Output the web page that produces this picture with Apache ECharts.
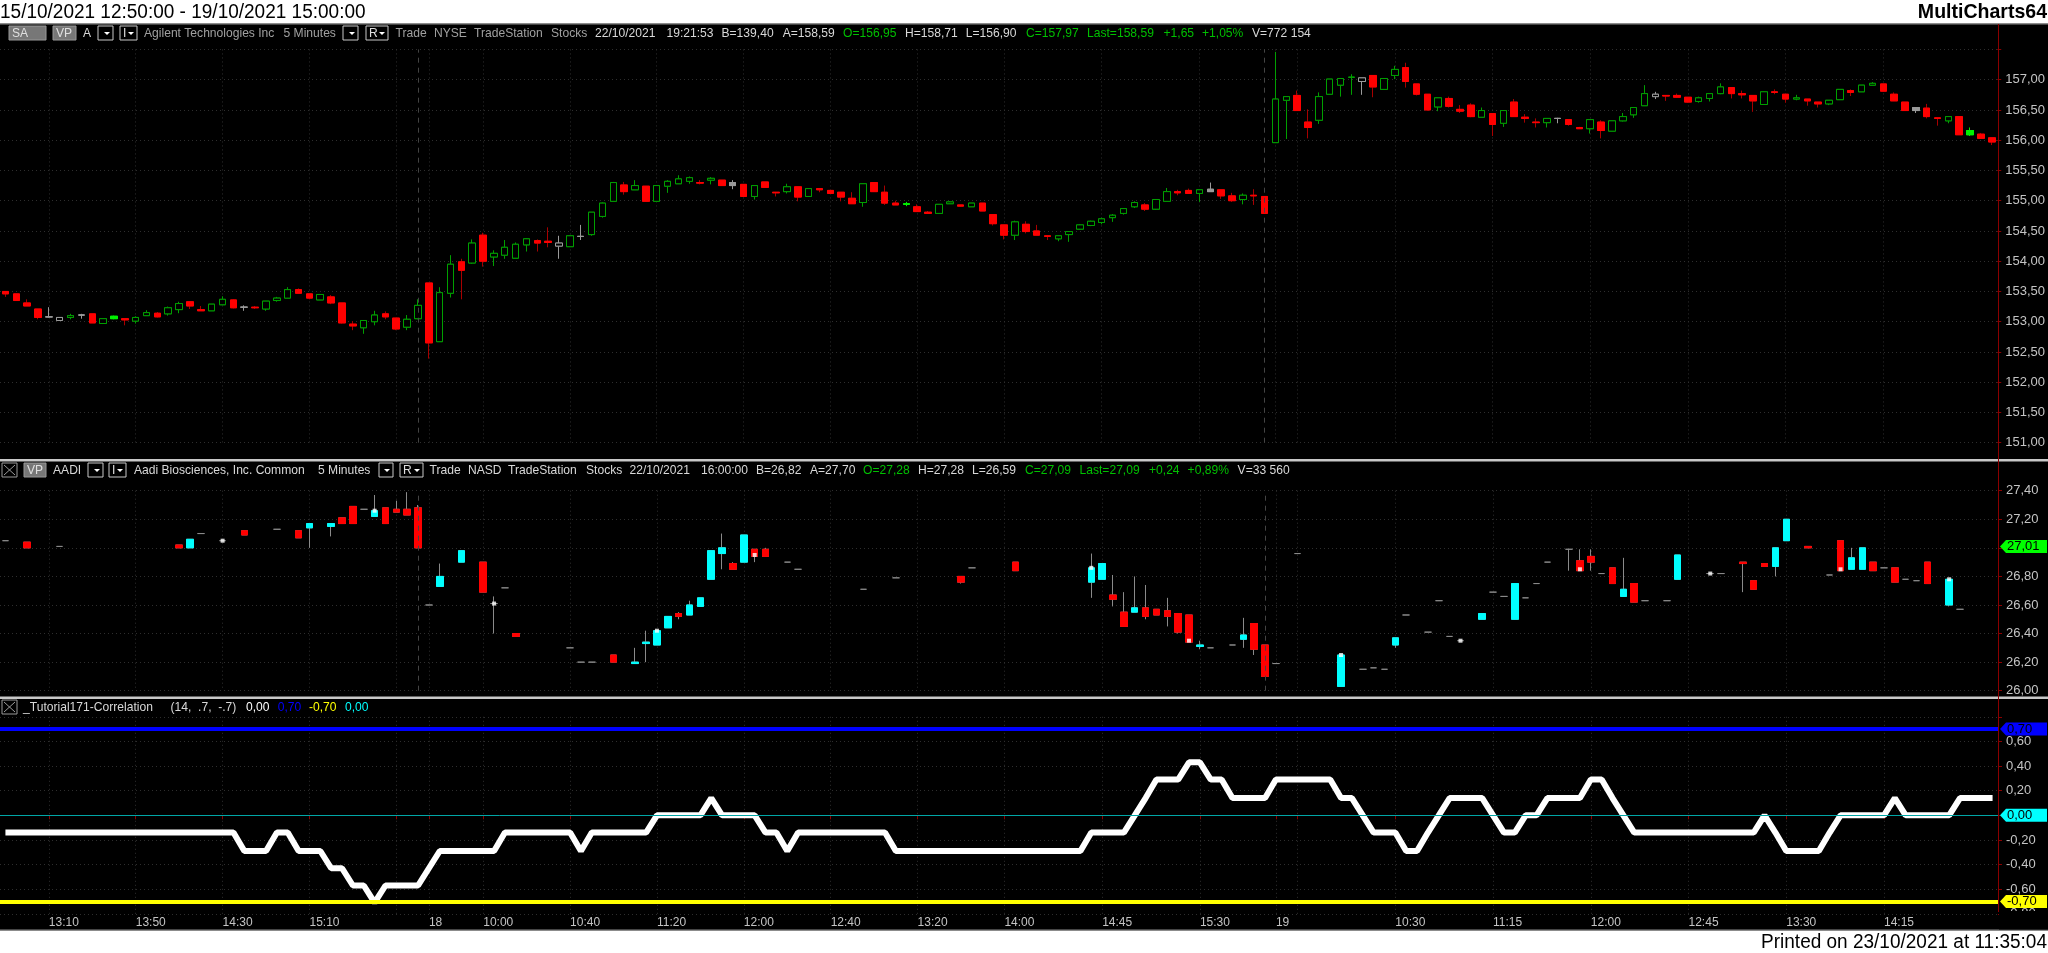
<!DOCTYPE html>
<html>
<head>
<meta charset="utf-8">
<title>MultiCharts64</title>
<style>
  html, body { margin: 0; padding: 0; background: #000; }
  #main { width: 2048px; height: 953px; }
</style>
<script src="https://cdn.jsdelivr.net/npm/echarts@6/dist/echarts.min.js"></script>
</head>
<body>
<div id="main"></div>
<script>
// 5 minute bars, one slot per bar on all three panels
const barCount = 184;
const tickBars = [4,12,20,28,36,39,44,52,60,68,76,84,92,101,110,117,119,128,137,146,155,164,173];
const tickLabels = ['13:10','13:50','14:30','15:10','','18','10:00','10:40','11:20','12:00','12:40','13:20','14:00','14:45','15:30','19','','10:30','11:15','12:00','12:45','13:30','14:15'];
const sessionBreaks = [38,116];

// Agilent (A) - open, close, low, high
const aOpen = [153.50,153.46,153.31,153.21,153.08,153.02,153.07,153.11,153.13,152.97,153.05,153.05,153.01,153.10,153.14,153.13,153.20,153.33,153.20,153.18,153.28,153.36,153.24,153.24,153.21,153.35,153.39,153.53,153.46,153.36,153.41,153.31,152.96,152.90,153.00,153.13,153.06,152.91,153.05,153.64,152.67,153.47,153.99,153.97,154.43,154.07,154.10,154.05,154.27,154.34,154.33,154.25,154.24,154.41,154.44,154.74,154.99,155.26,155.18,155.24,154.99,155.24,155.28,155.32,155.30,155.34,155.34,155.30,155.27,155.07,155.31,155.14,155.15,155.23,155.07,155.20,155.17,155.14,155.04,154.97,155.30,155.14,154.96,154.94,154.90,154.81,154.79,154.95,154.93,154.90,154.96,154.77,154.60,154.43,154.61,154.50,154.42,154.37,154.44,154.53,154.59,154.64,154.72,154.79,154.90,154.93,154.86,154.99,155.15,155.17,155.12,155.19,155.18,155.08,155.02,155.09,155.07,155.96,156.66,156.74,156.30,156.33,156.76,156.91,157.04,156.97,157.07,156.84,157.07,157.20,156.93,156.76,156.55,156.69,156.51,156.58,156.38,156.44,156.28,156.63,156.38,156.30,156.29,156.36,156.34,156.21,156.19,156.30,156.15,156.32,156.42,156.57,156.72,156.74,156.74,156.71,156.64,156.69,156.77,156.87,156.77,156.74,156.59,156.80,156.76,156.68,156.68,156.63,156.60,156.67,156.82,156.80,156.91,156.93,156.76,156.63,156.54,156.53,156.37,156.32,156.39,156.09,156.10,156.04];
const aClose = [153.46,153.35,153.26,153.07,153.08,153.07,153.10,153.11,152.98,153.05,153.09,153.03,153.07,153.15,153.08,153.23,153.30,153.26,153.18,153.29,153.37,153.23,153.24,153.23,153.34,153.39,153.53,153.47,153.39,153.45,153.31,152.98,152.93,153.02,153.11,153.08,152.88,153.04,153.27,152.65,153.48,153.95,153.85,154.30,154.00,154.13,154.23,154.28,154.37,154.30,154.31,154.30,154.42,154.41,154.81,154.96,155.30,155.15,155.25,154.99,155.25,155.32,155.36,155.38,155.29,155.37,155.25,155.25,155.07,155.25,155.22,155.13,155.23,155.06,155.20,155.18,155.12,155.06,154.95,155.28,155.15,154.96,154.93,154.95,154.82,154.79,154.94,154.98,154.91,154.96,154.83,154.62,154.43,154.65,154.49,154.43,154.41,154.42,154.49,154.60,154.66,154.70,154.76,154.87,154.97,154.86,155.02,155.15,155.13,155.12,155.18,155.15,155.08,155.00,155.09,155.08,154.79,156.68,156.72,156.49,156.21,156.72,157.01,157.02,157.04,157.03,156.88,157.02,157.17,156.97,156.76,156.50,156.70,156.56,156.48,156.39,156.49,156.26,156.49,156.39,156.36,156.29,156.36,156.36,156.26,156.19,156.34,156.16,156.32,156.39,156.54,156.77,156.76,156.73,156.71,156.63,156.70,156.77,156.88,156.77,156.75,156.65,156.80,156.79,156.68,156.70,156.65,156.60,156.66,156.84,156.79,156.91,156.94,156.81,156.65,156.49,156.49,156.39,156.36,156.39,156.09,156.16,156.03,155.97];
const aLow = [153.41,153.35,153.26,153.04,153.07,153.02,153.04,153.05,152.98,152.97,153.04,152.94,152.97,153.10,153.07,153.10,153.14,153.21,153.18,153.18,153.28,153.22,153.18,153.21,153.18,153.33,153.39,153.47,153.37,153.36,153.29,152.97,152.86,152.80,152.94,153.04,152.86,152.86,153.04,152.39,152.67,153.40,153.37,153.96,153.91,153.92,154.04,154.05,154.16,154.16,154.23,154.04,154.24,154.35,154.42,154.72,154.99,155.10,155.18,154.99,154.99,155.13,155.28,155.28,155.27,155.27,155.25,155.19,155.07,155.02,155.22,155.07,155.12,154.99,155.07,155.14,155.11,154.99,154.95,154.90,155.15,154.93,154.93,154.91,154.82,154.78,154.79,154.95,154.90,154.90,154.83,154.59,154.36,154.35,154.46,154.43,154.35,154.33,154.32,154.52,154.58,154.61,154.65,154.77,154.88,154.83,154.85,154.99,155.09,155.12,154.98,155.15,155.03,154.98,154.94,154.93,154.79,155.96,156.02,156.49,156.03,156.27,156.75,156.72,156.75,156.75,156.71,156.84,157.01,156.87,156.74,156.49,156.48,156.54,156.45,156.38,156.38,156.07,156.22,156.39,156.29,156.21,156.21,156.28,156.24,156.19,156.11,156.03,156.15,156.31,156.37,156.57,156.68,156.65,156.70,156.62,156.62,156.64,156.76,156.69,156.69,156.47,156.59,156.76,156.62,156.66,156.57,156.54,156.58,156.67,156.73,156.80,156.91,156.81,156.65,156.49,156.45,156.36,156.24,156.28,156.09,156.07,156.03,155.92];
const aHigh = [153.50,153.46,153.37,153.21,153.24,153.07,153.13,153.13,153.13,153.05,153.10,153.05,153.09,153.19,153.16,153.25,153.33,153.33,153.26,153.29,153.42,153.37,153.27,153.26,153.34,153.41,153.57,153.55,153.46,153.45,153.44,153.31,153.01,153.02,153.18,153.17,153.06,153.11,153.37,153.64,153.57,154.10,154.04,154.36,154.47,154.18,154.35,154.31,154.38,154.36,154.56,154.42,154.43,154.60,154.81,154.97,155.31,155.31,155.34,155.24,155.25,155.34,155.42,155.40,155.34,155.39,155.34,155.34,155.27,155.25,155.31,155.14,155.28,155.23,155.20,155.21,155.17,155.14,155.14,155.28,155.30,155.25,155.00,154.98,154.94,154.83,154.94,154.99,154.93,154.96,154.96,154.77,154.60,154.67,154.66,154.60,154.43,154.42,154.49,154.61,154.67,154.72,154.78,154.87,154.99,154.96,155.02,155.21,155.18,155.20,155.18,155.30,155.18,155.13,155.12,155.19,155.07,157.46,156.72,156.82,156.51,156.79,157.01,157.02,157.09,157.03,157.07,157.02,157.23,157.28,156.93,156.76,156.70,156.72,156.58,156.61,156.54,156.44,156.49,156.68,156.43,156.36,156.36,156.37,156.34,156.22,156.34,156.33,156.32,156.45,156.54,156.91,156.80,156.74,156.77,156.71,156.72,156.77,156.94,156.87,156.82,156.74,156.80,156.84,156.76,156.75,156.68,156.63,156.66,156.84,156.84,156.91,156.96,156.93,156.79,156.63,156.54,156.60,156.37,156.39,156.39,156.21,156.12,156.04];
const aGrayBars = [4,5,7,22,51,53,67,111,125,143,152,176];
const aBrightBars = [10,83,181];

// Aadi (AADI) - thinly traded, only these bars printed
const bBars = [0,2,5,16,17,18,20,22,25,27,28,30,31,32,33,34,35,36,37,38,39,40,42,44,45,46,47,52,53,54,56,58,59,60,61,62,63,64,65,66,67,68,69,70,72,73,79,82,88,89,93,100,101,102,103,104,105,106,107,108,109,110,111,113,114,115,116,117,119,123,125,126,127,128,129,131,132,133,134,136,137,138,139,140,141,142,144,145,146,147,148,149,150,151,153,154,157,158,160,161,162,163,164,166,168,169,170,171,172,173,174,175,176,177,179,180];
const bOpen = [27.05,27.04,27.01,27.02,27.00,27.10,27.05,27.12,27.13,27.12,27.14,27.15,27.21,27.29,27.27,27.22,27.28,27.27,27.27,27.28,26.60,26.73,26.90,26.90,26.61,26.72,26.40,26.30,26.20,26.20,26.25,26.19,26.33,26.32,26.44,26.54,26.53,26.59,26.78,26.96,26.89,26.90,26.99,26.99,26.90,26.85,26.71,26.79,26.80,26.86,26.90,26.76,26.78,26.67,26.55,26.55,26.58,26.57,26.56,26.54,26.53,26.31,26.30,26.32,26.36,26.47,26.32,26.19,26.96,26.03,26.15,26.16,26.15,26.32,26.53,26.41,26.63,26.38,26.35,26.50,26.69,26.66,26.50,26.65,26.75,26.90,26.99,26.91,26.94,26.82,26.86,26.66,26.75,26.63,26.63,26.78,26.82,26.82,26.90,26.77,26.89,26.87,27.05,27.01,26.81,27.05,26.85,26.85,26.90,26.86,26.86,26.78,26.77,26.90,26.60,26.57];
const bClose = [27.05,27.00,27.01,27.00,27.06,27.10,27.05,27.09,27.13,27.07,27.17,27.17,27.17,27.17,27.27,27.26,27.17,27.25,27.23,27.00,26.60,26.80,26.98,26.69,26.61,26.72,26.38,26.30,26.20,26.20,26.20,26.20,26.34,26.42,26.52,26.52,26.60,26.65,26.98,27.00,26.85,27.09,26.94,26.94,26.90,26.85,26.71,26.79,26.76,26.86,26.84,26.86,26.89,26.64,26.45,26.58,26.52,26.53,26.52,26.41,26.34,26.32,26.30,26.32,26.39,26.29,26.10,26.19,26.96,26.25,26.15,26.16,26.15,26.37,26.53,26.41,26.63,26.38,26.35,26.54,26.69,26.66,26.75,26.65,26.75,26.90,26.99,26.84,26.90,26.82,26.75,26.71,26.62,26.63,26.63,26.95,26.82,26.82,26.89,26.71,26.87,27.00,27.20,27.00,26.81,26.84,26.93,27.00,26.84,26.86,26.76,26.78,26.77,26.75,26.78,26.57];
const bLow = [27.05,27.00,27.01,27.00,27.00,27.10,27.05,27.09,27.13,27.07,27.00,27.08,27.17,27.17,27.27,27.22,27.17,27.25,27.23,27.00,26.60,26.73,26.90,26.69,26.40,26.72,26.38,26.30,26.20,26.20,26.20,26.19,26.20,26.32,26.44,26.50,26.53,26.59,26.78,26.85,26.85,26.90,26.90,26.94,26.90,26.85,26.71,26.79,26.75,26.86,26.84,26.65,26.78,26.59,26.45,26.55,26.50,26.53,26.45,26.40,26.34,26.29,26.30,26.32,26.30,26.25,26.10,26.19,26.96,26.03,26.15,26.16,26.15,26.30,26.53,26.41,26.63,26.38,26.35,26.50,26.69,26.66,26.50,26.65,26.75,26.90,26.84,26.84,26.84,26.82,26.75,26.66,26.62,26.63,26.63,26.78,26.82,26.82,26.69,26.71,26.87,26.80,27.05,27.00,26.81,26.84,26.85,26.85,26.84,26.86,26.76,26.78,26.77,26.75,26.59,26.57];
const bHigh = [27.05,27.04,27.01,27.02,27.06,27.10,27.05,27.12,27.13,27.12,27.17,27.17,27.21,27.29,27.27,27.37,27.28,27.33,27.39,27.30,26.60,26.89,26.98,26.90,26.66,26.72,26.40,26.30,26.20,26.20,26.25,26.30,26.42,26.42,26.52,26.55,26.63,26.65,26.98,27.10,26.90,27.09,26.99,27.00,26.90,26.85,26.71,26.79,26.80,26.86,26.90,26.96,26.89,26.81,26.69,26.80,26.74,26.57,26.65,26.54,26.53,26.35,26.30,26.32,26.51,26.47,26.32,26.19,26.96,26.25,26.15,26.16,26.15,26.37,26.53,26.41,26.63,26.38,26.35,26.54,26.69,26.66,26.75,26.65,26.75,26.90,26.99,26.99,26.99,26.82,26.86,26.93,26.75,26.63,26.63,26.95,26.82,26.82,26.90,26.77,26.89,27.00,27.20,27.01,26.81,27.05,27.00,27.00,26.90,26.86,26.86,26.78,26.77,26.90,26.78,26.57];
const bDotBars = [20,34,45,60,69,100,109,123,134,145,157,169,179];
const bDotValues = [27.05,27.26,26.61,26.42,26.95,26.86,26.35,26.25,26.35,26.85,26.82,26.85,26.78];

// _Tutorial171-Correlation - steps of 1/7
const correlation = [-.14,-.14,-.14,-.14,-.14,-.14,-.14,-.14,-.14,-.14,-.14,-.14,-.14,-.14,-.14,-.14,-.14,-.14,-.14,-.14,-.14,-.14,-.29,-.29,-.29,-.14,-.14,-.29,-.29,-.29,-.43,-.43,-.57,-.57,-.71,-.57,-.57,-.57,-.57,-.43,-.29,-.29,-.29,-.29,-.29,-.29,-.14,-.14,-.14,-.14,-.14,-.14,-.14,-.29,-.14,-.14,-.14,-.14,-.14,-.14,0,0,0,0,0,.14,0,0,0,0,-.14,-.14,-.29,-.14,-.14,-.14,-.14,-.14,-.14,-.14,-.14,-.14,-.29,-.29,-.29,-.29,-.29,-.29,-.29,-.29,-.29,-.29,-.29,-.29,-.29,-.29,-.29,-.29,-.29,-.29,-.14,-.14,-.14,-.14,0,.14,.29,.29,.29,.43,.43,.29,.29,.14,.14,.14,.14,.29,.29,.29,.29,.29,.29,.14,.14,0,-.14,-.14,-.14,-.29,-.29,-.14,0,.14,.14,.14,.14,0,-.14,-.14,0,0,.14,.14,.14,.14,.29,.29,.14,0,-.14,-.14,-.14,-.14,-.14,-.14,-.14,-.14,-.14,-.14,-.14,-.14,0,-.14,-.29,-.29,-.29,-.29,-.14,0,0,0,0,0,.14,0,0,0,0,0,.14,.14,.14,.14];
const levelUpper = 0.7;
const levelLower = -0.7;
const levelZero = 0;

// last value tags on the price scale
const tagsB = [[27.01,'#00ff00']];
const tagsC = [[levelUpper,'#0000ff'],[levelZero,'#00ffff'],[levelLower,'#ffff00']];

const RED = '#ff0000', RED_WICK = '#a80000', GREEN = '#009f00', GRAY = '#9a9a9a', BRIGHT = '#00f000';
const CYAN = '#00ffff', WICK_B = '#8a8a8a';
const GRID = '#2e2e2e', AXIS = '#8b0000', LABEL = '#c4c4c4';
const HEAD = '#a0a0a0', LIGHT = '#d8d8d8', PLUS = '#00c000';

const bars = Array.from({length: barCount}, (_, i) => i);
const isTick = i => tickBars.includes(+i);
const comma = v => v.toFixed(2).replace('.', ',');

// per item styles replace the up/down pair, so pick fill and stroke by direction
function aStyle(i) {
  const down = aClose[i] < aOpen[i];
  if (aBrightBars.includes(i)) return {color: BRIGHT, borderColor: BRIGHT};
  if (aGrayBars.includes(i)) return {color: down ? GRAY : '#000', borderColor: GRAY};
  return {color: down ? RED : '#000', borderColor: down ? RED : GREEN};
}
function aWickColor(i) {
  if (aBrightBars.includes(i)) return BRIGHT;
  if (aGrayBars.includes(i)) return GRAY;
  return aClose[i] < aOpen[i] ? RED_WICK : GREEN;
}

const aWicks = bars.map(i => {
  const c = aWickColor(i);
  return {value: [i, aOpen[i], aClose[i], aLow[i], aHigh[i]], itemStyle: {color: c, borderColor: c}};
});
const aBodies = bars.map(i => ({
  value: [i, aOpen[i], aClose[i], Math.min(aOpen[i], aClose[i]), Math.max(aOpen[i], aClose[i])],
  itemStyle: aStyle(i)
}));
const bWicks = bBars.map((b, k) => [b, bOpen[k], bClose[k], bLow[k], bHigh[k]]);
const bBodies = bBars.map((b, k) => [b, bOpen[k], bClose[k], Math.min(bOpen[k], bClose[k]), Math.max(bOpen[k], bClose[k])])
  .filter(d => d[1] !== d[2]);

function candle(name, data, grid, style, extra) {
  return Object.assign({
    name, type: 'candlestick', xAxisIndex: grid, yAxisIndex: grid, data,
    encode: {x: 0, y: [1, 2, 3, 4]}, barWidth: 7, itemStyle: style, animation: false, silent: true
  }, extra);
}

function breakLines() {
  return {
    silent: true, symbol: 'none', animation: false, label: {show: false},
    lineStyle: {color: '#444', type: [5, 5], width: 1},
    data: sessionBreaks.map(b => ({xAxis: b}))
  };
}

function levelSeries(value, color, width) {
  return {
    type: 'line', xAxisIndex: 2, yAxisIndex: 2, data: [], z: 6, animation: false, silent: true,
    markLine: {silent: true, symbol: 'none', animation: false, label: {show: false},
      lineStyle: {color, width, type: 'solid'}, data: [{yAxis: value}]}
  };
}

// pointed value tag in the scale column, placed through the axis scale
function tagSeries(grid, tags) {
  return {
    type: 'custom', xAxisIndex: grid, yAxisIndex: grid, clip: false, z: 20, silent: true, animation: false,
    data: tags.map(t => [barCount - 1, t[0]]),
    renderItem(params, api) {
      const y = api.coord([api.value(0), api.value(1)])[1];
      const color = tags[params.dataIndex][1];
      return {type: 'group', children: [
        {type: 'polygon', shape: {points: [[2000, y], [2006, y - 6.5], [2047, y - 6.5], [2047, y + 6.5], [2006, y + 6.5]]}, style: {fill: color}},
        {type: 'text', style: {text: comma(api.value(1)), x: 2007, y: y, verticalAlign: 'middle', fill: '#000', font: '13px "Liberation Sans"'}}
      ]};
    }
  };
}

function xAxis(grid, last) {
  return {
    type: 'category', gridIndex: grid, data: bars, boundaryGap: true,
    offset: last ? -2 : 0,
    axisLine: {show: last, lineStyle: {color: AXIS}},
    axisTick: {show: last, alignWithLabel: true, interval: (i) => isTick(i), length: 4, lineStyle: {color: AXIS}},
    axisLabel: {show: last, interval: (i) => isTick(i), align: 'left', margin: 5, color: LABEL, fontSize: 12,
      fontFamily: 'Liberation Sans', formatter: v => tickLabels[tickBars.indexOf(+v)] || ''},
    splitLine: {show: true, alignWithLabel: true, interval: (i) => isTick(i), lineStyle: {color: GRID, type: [1, 3]}}
  };
}

function yAxis(grid, min, max, interval, hidden) {
  return {
    type: 'value', gridIndex: grid, position: 'right', min, max, interval, scale: true,
    axisLine: {show: false},
    axisTick: {show: true, length: 4, lineStyle: {color: AXIS}},
    axisLabel: {color: LABEL, fontSize: 13, margin: 8, fontFamily: 'Liberation Sans', showMinLabel: true, showMaxLabel: true,
      formatter: v => hidden.some(h => Math.abs(h - v) < 1e-6) ? '' : comma(v)},
    splitLine: {show: true, lineStyle: {color: GRID, type: [1, 3]}}
  };
}

// header rows: [text, x, colour]
const headerA = [['A',83,LIGHT],['Agilent Technologies Inc',144,HEAD],['5 Minutes',283.5,HEAD],['Trade',395.5,HEAD],['NYSE',434,HEAD],['TradeStation',474,HEAD],['Stocks',551,HEAD],['22/10/2021',595,LIGHT],['19:21:53',666.5,LIGHT],['B=139,40',721.5,LIGHT],['A=158,59',782.7,LIGHT],['O=156,95',843,PLUS],['H=158,71',905,LIGHT],['L=156,90',965.7,LIGHT],['C=157,97',1026,PLUS],['Last=158,59',1087,PLUS],['+1,65',1163.5,PLUS],['+1,05%',1202,PLUS],['V=772 154',1252,LIGHT]];
const headerB = [['AADI',53,LIGHT],['Aadi Biosciences, Inc. Common',134,LIGHT],['5 Minutes',318,LIGHT],['Trade',429.5,LIGHT],['NASD',468,LIGHT],['TradeStation',508,LIGHT],['Stocks',586,LIGHT],['22/10/2021',629.5,LIGHT],['16:00:00',701,LIGHT],['B=26,82',756,LIGHT],['A=27,70',810,LIGHT],['O=27,28',863,PLUS],['H=27,28',918,LIGHT],['L=26,59',972,LIGHT],['C=27,09',1025,PLUS],['Last=27,09',1079.5,PLUS],['+0,24',1149,PLUS],['+0,89%',1187.6,PLUS],['V=33 560',1237.6,LIGHT]];
const headerC = [['_Tutorial171-Correlation',23,LIGHT],['(14,  .7,  -.7)',170.5,LIGHT],['0,00',246,'#ffffff'],['0,70',277.7,'#0000ff'],['-0,70',309,'#ffff00'],['0,00',345,'#00ffff']];

// narrow label: scaled like the terminal's tall thin font
function label(text, x, y, fill, font, sx, align) {
  return {type: 'text', z: 100, silent: true, x, y, scaleX: sx, originX: 0, originY: 0,
    style: {text, x: 0, y: 0, align: align || 'left', verticalAlign: 'middle', fill, font}};
}
function rowText(rows, y) {
  return rows.map(r => label(r[0], r[1], y, r[2], '13px "Liberation Sans"', 0.93));
}
function rect(x, y, width, height, fill, stroke) {
  return {type: 'rect', z: 99, silent: true, shape: {x, y, width, height}, style: {fill, stroke: stroke || null, lineWidth: 1}};
}
function pillButton(x, y, w, text) {
  return [rect(x, y, w, 14, '#777', '#999'), label(text, x + 3, y + 7, '#e0e0e0', '13px "Liberation Sans"', 0.93)];
}
function dropButton(x, y, w, text) {
  const ax = x + w - 9;
  return [rect(x, y, w, 14, '#000', '#c8c8c8'),
    {type: 'polygon', z: 100, silent: true, shape: {points: [[ax, y + 6], [ax + 6, y + 6], [ax + 3, y + 9]]}, style: {fill: '#fff'}},
    label(text || '', x + 3, y + 7, '#e0e0e0', '13px "Liberation Sans"', 0.93)];
}
function closeButton(x, y) {
  return [rect(x, y, 15, 14, '#000', '#9a9a9a'),
    {type: 'line', z: 100, silent: true, shape: {x1: x + 2, y1: y + 2, x2: x + 13, y2: y + 12}, style: {stroke: '#9a9a9a'}},
    {type: 'line', z: 100, silent: true, shape: {x1: x + 13, y1: y + 2, x2: x + 2, y2: y + 12}, style: {stroke: '#9a9a9a'}}];
}

const chrome = [
  rect(0, 0, 2048, 23, '#fff'),
  rect(0, 23, 2048, 1.5, '#8c8c8c'),
  rect(0, 931, 2048, 22, '#fff'),
  rect(0, 929.5, 2048, 1.5, '#8c8c8c'),
  rect(0, 459, 2048, 2.5, '#c8c8c8'),
  rect(0, 696.5, 2048, 2.5, '#c8c8c8'),
  rect(1999, 911, 49, 18.5, '#000'),
  {type: 'line', z: 99, silent: true, shape: {x1: 1998.5, y1: 24, x2: 1998.5, y2: 912}, style: {stroke: AXIS}},
  label('15/10/2021 12:50:00 - 19/10/2021 15:00:00', 0, 12.5, '#000', '20px "Liberation Sans"', 0.95),
  label('MultiCharts64', 2047, 12.5, '#000', 'bold 21px "Liberation Sans"', 0.93, 'right'),
  label('Printed on 23/10/2021 at 11:35:04', 2047, 942, '#000', '20px "Liberation Sans"', 0.95, 'right'),
  ...pillButton(9, 26, 37, 'SA'), ...pillButton(53, 26, 23, 'VP'),
  ...dropButton(98, 26, 15), ...dropButton(120, 26, 17, 'I'), ...dropButton(343, 26, 15), ...dropButton(366, 26, 22, 'R'),
  ...rowText(headerA, 33),
  ...closeButton(2, 463), ...pillButton(24, 463, 22, 'VP'),
  ...dropButton(88, 463, 15), ...dropButton(109, 463, 17, 'I'), ...dropButton(379, 463, 14), ...dropButton(400, 463, 23, 'R'),
  ...rowText(headerB, 470),
  ...closeButton(2, 700),
  ...rowText(headerC, 707.5)
];

const option = {
  backgroundColor: '#000',
  animation: false,
  grid: [
    {left: 0, width: 1998, top: 49.45, height: 393.25},
    {left: 0, width: 1998, top: 490.7, height: 200},
    {left: 0, width: 1998, top: 716.8, height: 197}
  ],
  xAxis: [xAxis(0, false), xAxis(1, false), xAxis(2, true)],
  yAxis: [
    yAxis(0, 151, 157.5, 0.5, [157.5]),
    yAxis(1, 26, 27.4, 0.2, []),
    yAxis(2, -0.8, 0.8, 0.2, [0.8])
  ],
  series: [
    candle('A wicks', aWicks, 0, {}, {markLine: breakLines(), z: 2}),
    candle('A', aBodies, 0, {}, {z: 3}),
    candle('AADI wicks', bWicks, 1, {color: WICK_B, color0: WICK_B, borderColor: WICK_B, borderColor0: WICK_B, borderColorDoji: WICK_B}, {markLine: breakLines(), z: 2}),
    candle('AADI', bBodies, 1, {color: CYAN, color0: RED, borderColor: CYAN, borderColor0: RED}, {z: 3}),
    {name: 'AADI last', type: 'scatter', xAxisIndex: 1, yAxisIndex: 1, symbol: 'rect', symbolSize: 4, z: 4, silent: true, animation: false,
      itemStyle: {color: '#fff'}, data: bDotBars.map((b, k) => [b, bDotValues[k]])},
    {name: 'Correlation', type: 'line', xAxisIndex: 2, yAxisIndex: 2, data: correlation, showSymbol: false, symbol: 'none', z: 4, silent: true, animation: false,
      lineStyle: {color: '#fff', width: 6, join: 'bevel', cap: 'butt'}},
    levelSeries(levelUpper, '#0000ff', 4),
    levelSeries(levelLower, '#ffff00', 4),
    levelSeries(levelZero, '#00a6a6', 1),
    tagSeries(1, tagsB),
    tagSeries(2, tagsC)
  ],
  graphic: {elements: chrome}
};

const myChart = echarts.init(document.getElementById('main'), null, {renderer: 'canvas'});
myChart.setOption(option);
window.addEventListener('resize', function() {
  myChart.resize();
});
</script>
</body>
</html>
